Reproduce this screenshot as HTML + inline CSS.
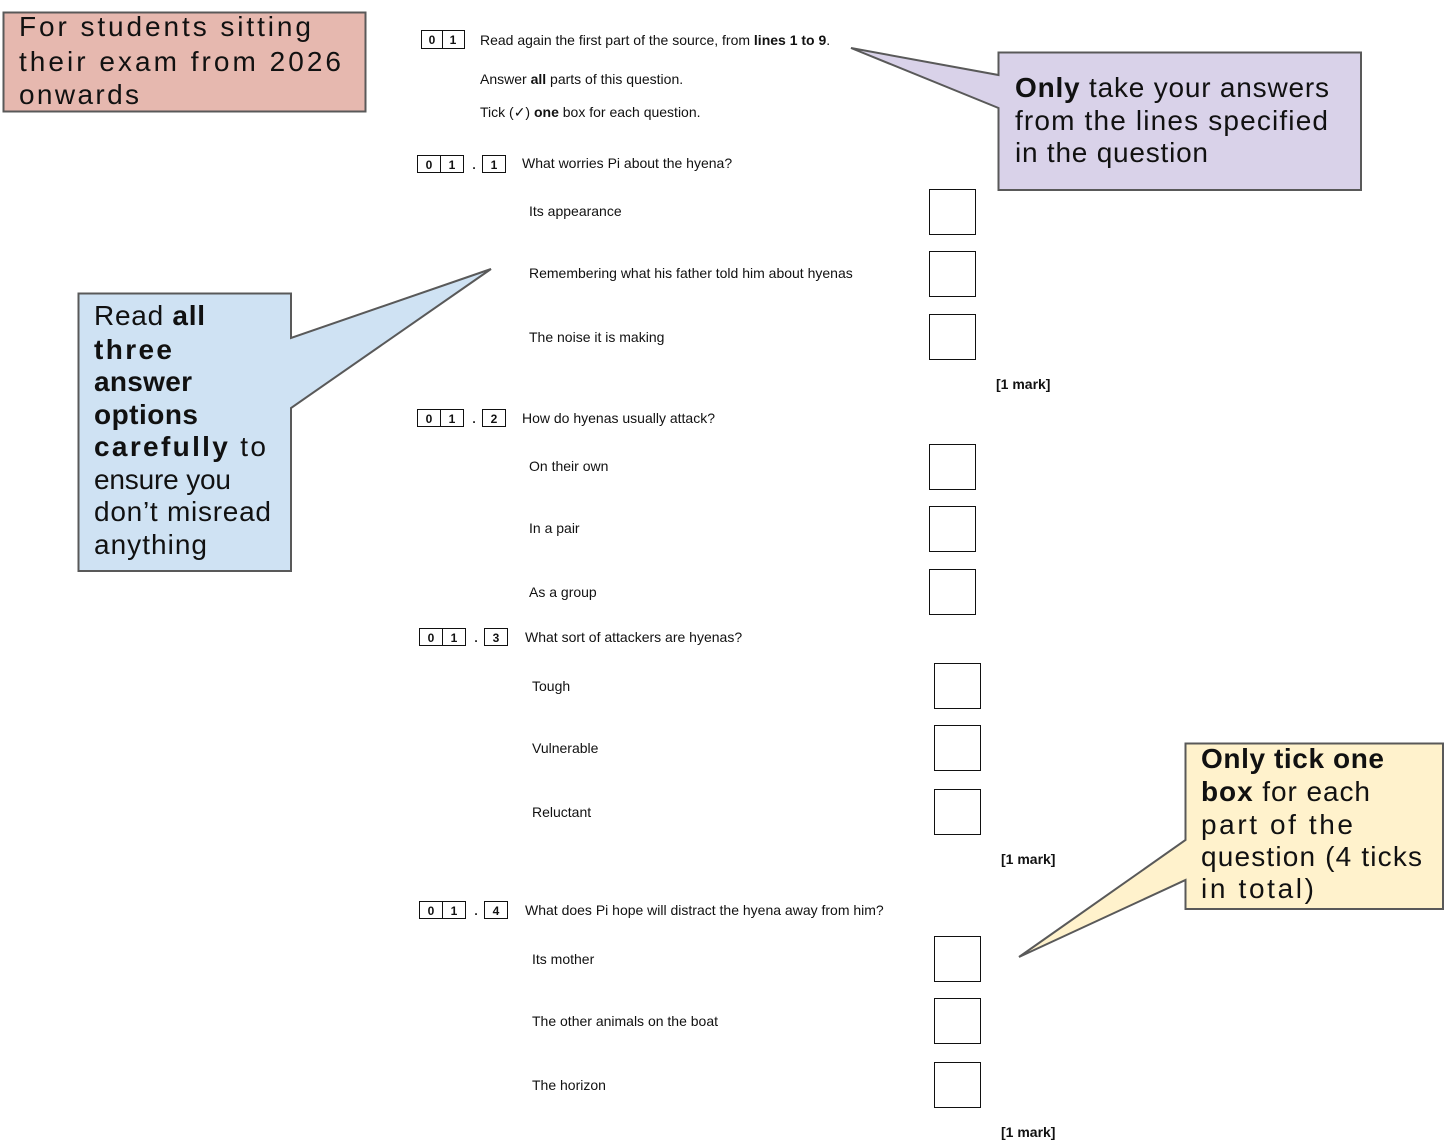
<!DOCTYPE html>
<html><head><meta charset="utf-8"><style>
html,body{margin:0;padding:0;background:#fff;}
svg{display:block}
.s{font-family:"Liberation Sans",Arial,sans-serif;font-size:14px;fill:#111}
.b{font-weight:bold}
.c{font-family:"Liberation Sans","DejaVu Sans",sans-serif;font-size:28px;fill:#111}
.n{font-family:"Liberation Sans",Arial,sans-serif;font-size:12px;font-weight:bold;fill:#111;text-anchor:middle}
</style></head><body>
<svg width="1447" height="1146" viewBox="0 0 1447 1146" xmlns="http://www.w3.org/2000/svg">
<rect x="3.5" y="12.5" width="362" height="99" fill="#e6b8af" stroke="#595959" stroke-width="2"/>
<text class="c" x="19" y="36" textLength="292">For students sitting</text>
<text class="c" x="19" y="71" textLength="322">their exam from 2026</text>
<text class="c" x="19" y="104" textLength="120">onwards</text>
<path d="M998.5 52.5 H1361 V190 H998.5 V108 L851 48 L998.5 75 Z" fill="#d9d2e9" stroke="#595959" stroke-width="2"/>
<text class="c" x="1015" y="97" textLength="314"><tspan class="b">Only</tspan> take your answers</text>
<text class="c" x="1015" y="130" textLength="313">from the lines specified</text>
<text class="c" x="1015" y="162" textLength="193">in the question</text>
<path d="M78.5 293.5 H291 V338 L491 269 L291 408 V571 H78.5 Z" fill="#cfe2f3" stroke="#595959" stroke-width="2"/>
<text class="c" x="94" y="325" textLength="111">Read <tspan class="b">all</tspan></text>
<text class="c b" x="94" y="359" textLength="78">three</text>
<text class="c b" x="94" y="391" textLength="98">answer</text>
<text class="c b" x="94" y="424" textLength="104">options</text>
<text class="c" x="94" y="456" textLength="172"><tspan class="b">carefully</tspan> to</text>
<text class="c" x="94" y="489" textLength="137">ensure you</text>
<text class="c" x="94" y="521" textLength="177">don’t misread</text>
<text class="c" x="94" y="554" textLength="113">anything</text>
<path d="M1185.5 743.5 H1443 V909 H1185.5 V880 L1019 957 L1185.5 840 Z" fill="#fff2cc" stroke="#595959" stroke-width="2"/>
<text class="c b" x="1201" y="768" textLength="183">Only tick one</text>
<text class="c" x="1201" y="801" textLength="169"><tspan class="b">box</tspan> for each</text>
<text class="c" x="1201" y="834" textLength="152">part of the</text>
<text class="c" x="1201" y="866" textLength="221">question (4 ticks</text>
<text class="c" x="1201" y="898" textLength="113">in total)</text>

<g fill="none" stroke="#111" stroke-width="1">
<rect x="421.5" y="30.5" width="43" height="18"/><line x1="442.5" y1="30" x2="442.5" y2="49"/>
</g>
<text class="n" x="432" y="44">0</text><text class="n" x="453" y="44">1</text>
<text class="s" x="480" y="45">Read again the first part of the source, from <tspan class="b">lines 1 to 9</tspan>.</text>
<text class="s" x="480" y="84">Answer <tspan class="b">all</tspan> parts of this question.</text>
<text class="s" x="480" y="117">Tick (✓) <tspan class="b">one</tspan> box for each question.</text>

<g fill="none" stroke="#111" stroke-width="1">
<rect x="417.5" y="155.5" width="46" height="17"/><line x1="440.5" y1="155" x2="440.5" y2="173"/><rect x="482.5" y="155.5" width="23" height="17"/>
<rect x="417.5" y="409.5" width="46" height="17"/><line x1="440.5" y1="409" x2="440.5" y2="427"/><rect x="482.5" y="409.5" width="23" height="17"/>
<rect x="419.5" y="628.5" width="46" height="17"/><line x1="442.5" y1="628" x2="442.5" y2="646"/><rect x="484.5" y="628.5" width="23" height="17"/>
<rect x="419.5" y="901.5" width="46" height="17"/><line x1="442.5" y1="901" x2="442.5" y2="919"/><rect x="484.5" y="901.5" width="23" height="17"/>
</g>
<text class="n" x="429" y="169">0</text><text class="n" x="452" y="169">1</text><text class="n" x="474" y="169">.</text><text class="n" x="494" y="169">1</text>
<text class="n" x="429" y="423">0</text><text class="n" x="452" y="423">1</text><text class="n" x="474" y="423">.</text><text class="n" x="494" y="423">2</text>
<text class="n" x="431" y="642">0</text><text class="n" x="454" y="642">1</text><text class="n" x="476" y="642">.</text><text class="n" x="496" y="642">3</text>
<text class="n" x="431" y="915">0</text><text class="n" x="454" y="915">1</text><text class="n" x="476" y="915">.</text><text class="n" x="496" y="915">4</text>

<text class="s" x="522" y="168">What worries Pi about the hyena?</text>
<text class="s" x="529" y="216">Its appearance</text>
<text class="s" x="529" y="278">Remembering what his father told him about hyenas</text>
<text class="s" x="529" y="342">The noise it is making</text>
<text class="s b" x="996" y="389">[1 mark]</text>

<text class="s" x="522" y="423">How do hyenas usually attack?</text>
<text class="s" x="529" y="471">On their own</text>
<text class="s" x="529" y="533">In a pair</text>
<text class="s" x="529" y="597">As a group</text>

<text class="s" x="525" y="642">What sort of attackers are hyenas?</text>
<text class="s" x="532" y="691">Tough</text>
<text class="s" x="532" y="753">Vulnerable</text>
<text class="s" x="532" y="817">Reluctant</text>
<text class="s b" x="1001" y="864">[1 mark]</text>

<text class="s" x="525" y="915">What does Pi hope will distract the hyena away from him?</text>
<text class="s" x="532" y="964">Its mother</text>
<text class="s" x="532" y="1026">The other animals on the boat</text>
<text class="s" x="532" y="1090">The horizon</text>
<text class="s b" x="1001" y="1137">[1 mark]</text>

<g fill="none" stroke="#111" stroke-width="1">
<rect x="929.5" y="189.5" width="46" height="45"/>
<rect x="929.5" y="251.5" width="46" height="45"/>
<rect x="929.5" y="314.5" width="46" height="45"/>
<rect x="929.5" y="444.5" width="46" height="45"/>
<rect x="929.5" y="506.5" width="46" height="45"/>
<rect x="929.5" y="569.5" width="46" height="45"/>
<rect x="934.5" y="663.5" width="46" height="45"/>
<rect x="934.5" y="725.5" width="46" height="45"/>
<rect x="934.5" y="789.5" width="46" height="45"/>
<rect x="934.5" y="936.5" width="46" height="45"/>
<rect x="934.5" y="998.5" width="46" height="45"/>
<rect x="934.5" y="1062.5" width="46" height="45"/>
</g>
</svg>
</body></html>
